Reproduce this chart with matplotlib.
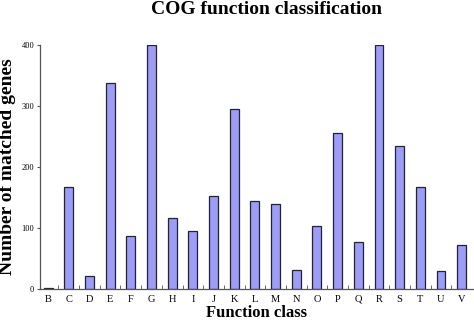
import numpy as np
import matplotlib
matplotlib.use("Agg")
from matplotlib import pyplot as plt

classes = ['B', 'C', 'D', 'E', 'F', 'G', 'H', 'I', 'J', 'K', 'L',
           'M', 'N', 'O', 'P', 'Q', 'R', 'S', 'T', 'U', 'V']
genes = [2, 167, 22, 337, 87, 400, 116, 95, 152, 295, 145,
         140, 31, 103, 255, 77, 400, 235, 168, 30, 72]

plt.rcParams['font.family'] = ['Liberation Serif', 'DejaVu Serif']

fig = plt.figure(figsize=(4.74, 3.24), dpi=100)
ax = fig.add_axes([0.084, 0.108, 0.914, 0.753])

x = np.arange(len(classes))
ax.bar(x, genes, width=0.43, color='#9d9df7', edgecolor='#222233', linewidth=0.9)

ax.set_xlim(-0.4, len(classes) - 0.45)
ax.set_ylim(0, 400)
ax.set_yticks([0, 100, 200, 300, 400])
ax.set_xticks(x)
ax.set_xticklabels(classes)
ax.set_xticks(x[:-1] + 0.5, minor=True)
ax.tick_params(axis='x', which='major', length=0, labelsize=7.5, pad=4)
ax.tick_params(axis='x', which='minor', length=3, direction='in', color='#555555')
ax.tick_params(axis='y', length=2, direction='out', labelsize=6, pad=2, color='#555555')

for s in ['top', 'right']:
    ax.spines[s].set_visible(False)
for s in ['left', 'bottom']:
    ax.spines[s].set_color('#555555')
    ax.spines[s].set_linewidth(0.9)

ax.set_title('COG function classification', fontsize=14, fontweight='bold', pad=22, x=0.523)
ax.set_xlabel('Function class', fontsize=12, fontweight='bold', labelpad=1)
ax.set_ylabel('Number of matched genes', fontsize=14, fontweight='bold', labelpad=4)

fig.savefig('out.png', dpi=100)
